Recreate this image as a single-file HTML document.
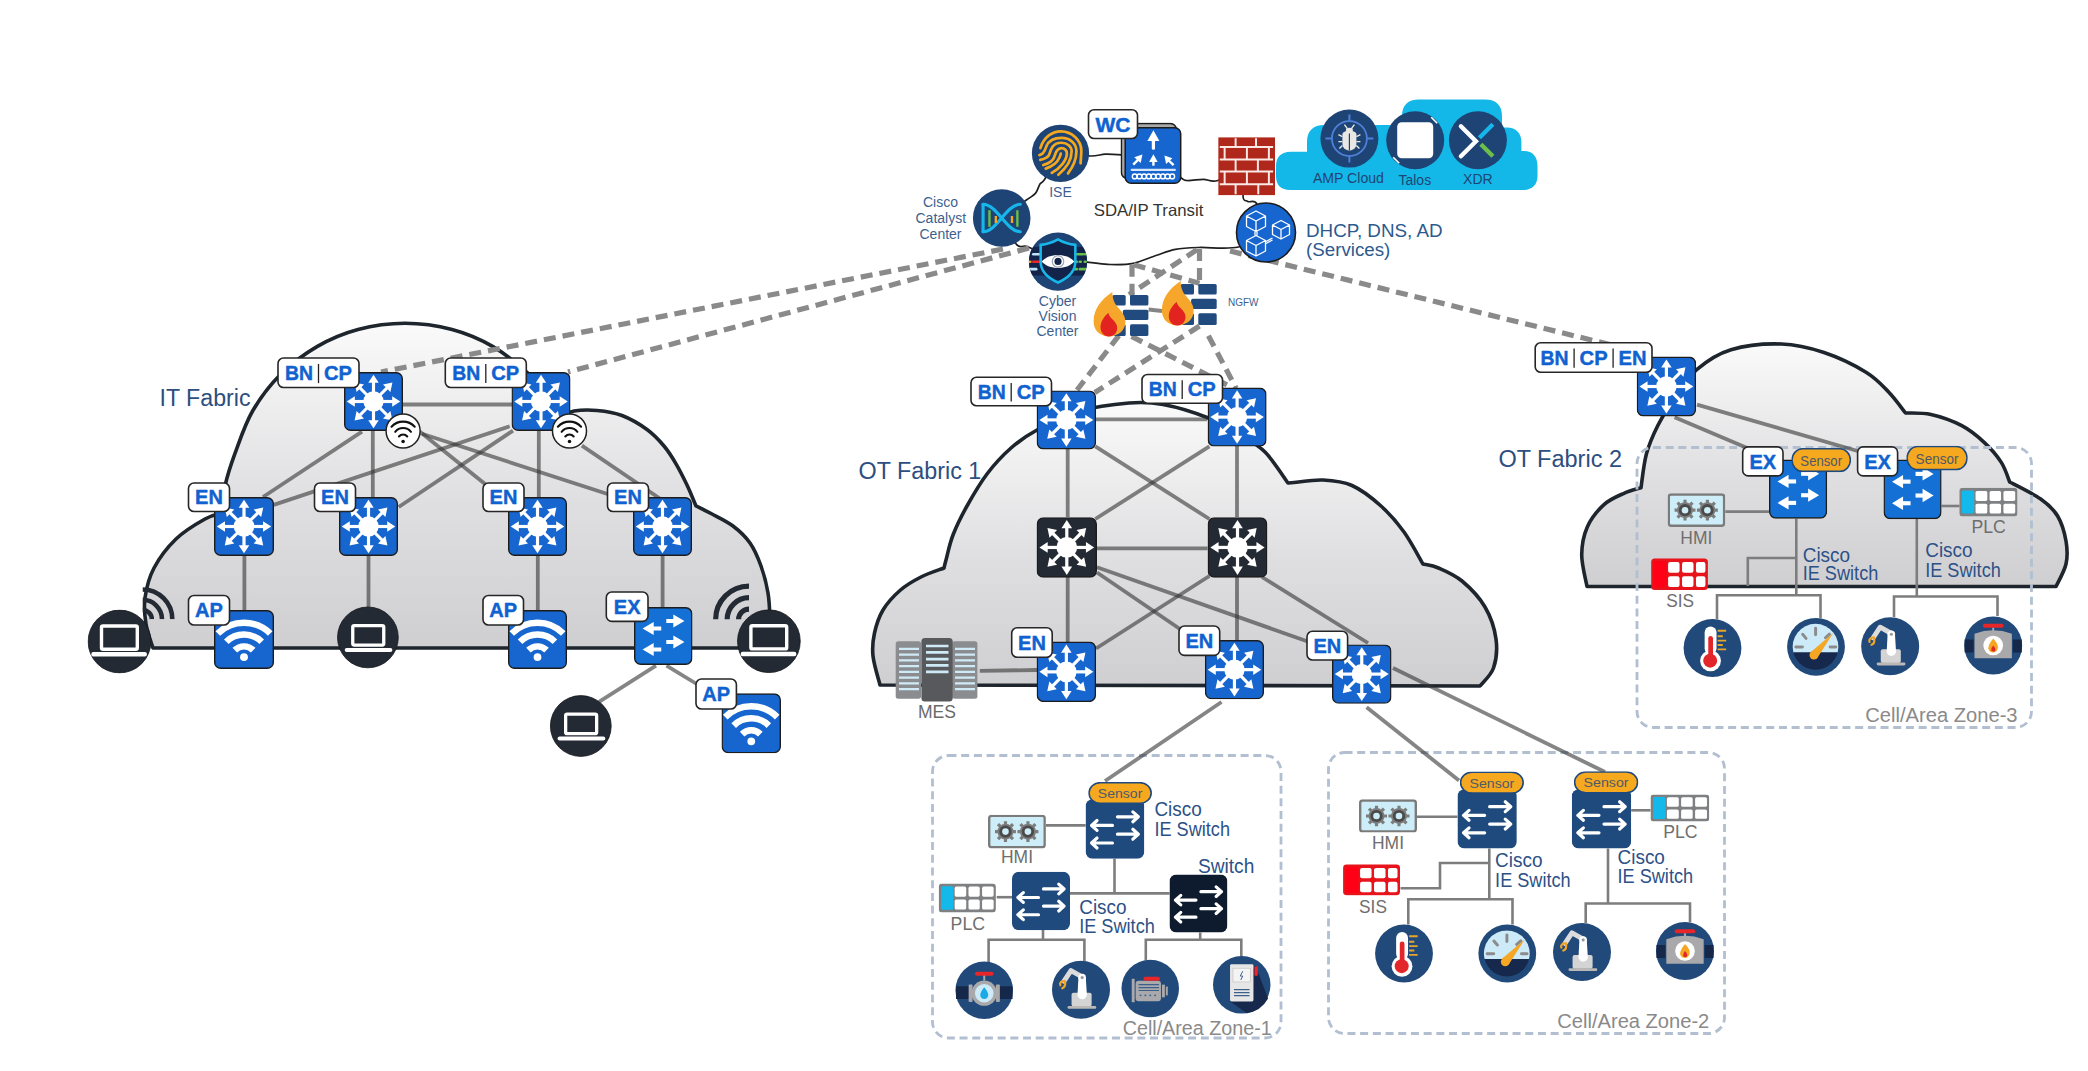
<!DOCTYPE html>
<html><head><meta charset="utf-8"><style>html,body{margin:0;padding:0;background:#fff;width:2088px;height:1071px;overflow:hidden}svg{display:block}</style></head><body>
<svg width="2088" height="1071" viewBox="0 0 2088 1071">
<defs>
<linearGradient id="cg" x1="0" y1="0" x2="0" y2="1">
  <stop offset="0" stop-color="#fafafa"/><stop offset="0.55" stop-color="#dfdfe1"/><stop offset="1" stop-color="#cfcfd2"/>
</linearGradient>
<symbol preserveAspectRatio="none" id="router" viewBox="0 0 60 60">
  <rect x="0.7" y="0.7" width="58.6" height="58.6" rx="6" fill="#1766d0" stroke="#1c1c1c" stroke-width="1.4"/>
  <circle cx="30" cy="30" r="10.3" fill="#fff"/>
  <g transform="rotate(0 30 30)"><rect x="28.4" y="8" width="3.2" height="13" fill="#fff"/><path d="M30 2.8 L35.3 11 L24.7 11 Z" fill="#fff"/></g><g transform="rotate(45 30 30)"><rect x="28.4" y="8" width="3.2" height="13" fill="#fff"/><path d="M30 2.8 L35.3 11 L24.7 11 Z" fill="#fff"/></g><g transform="rotate(90 30 30)"><rect x="28.4" y="8" width="3.2" height="13" fill="#fff"/><path d="M30 2.8 L35.3 11 L24.7 11 Z" fill="#fff"/></g><g transform="rotate(135 30 30)"><rect x="28.4" y="8" width="3.2" height="13" fill="#fff"/><path d="M30 2.8 L35.3 11 L24.7 11 Z" fill="#fff"/></g><g transform="rotate(180 30 30)"><rect x="28.4" y="8" width="3.2" height="13" fill="#fff"/><path d="M30 2.8 L35.3 11 L24.7 11 Z" fill="#fff"/></g><g transform="rotate(225 30 30)"><rect x="28.4" y="8" width="3.2" height="13" fill="#fff"/><path d="M30 2.8 L35.3 11 L24.7 11 Z" fill="#fff"/></g><g transform="rotate(270 30 30)"><rect x="28.4" y="8" width="3.2" height="13" fill="#fff"/><path d="M30 2.8 L35.3 11 L24.7 11 Z" fill="#fff"/></g><g transform="rotate(315 30 30)"><rect x="28.4" y="8" width="3.2" height="13" fill="#fff"/><path d="M30 2.8 L35.3 11 L24.7 11 Z" fill="#fff"/></g>
</symbol>
<symbol preserveAspectRatio="none" id="routerd" viewBox="0 0 60 60">
  <rect x="0.7" y="0.7" width="58.6" height="58.6" rx="6" fill="#232a33" stroke="#1c1c1c" stroke-width="1.4"/>
  <circle cx="30" cy="30" r="10.3" fill="#fff"/>
  <g transform="rotate(0 30 30)"><rect x="28.4" y="8" width="3.2" height="13" fill="#fff"/><path d="M30 2.8 L35.3 11 L24.7 11 Z" fill="#fff"/></g><g transform="rotate(45 30 30)"><rect x="28.4" y="8" width="3.2" height="13" fill="#fff"/><path d="M30 2.8 L35.3 11 L24.7 11 Z" fill="#fff"/></g><g transform="rotate(90 30 30)"><rect x="28.4" y="8" width="3.2" height="13" fill="#fff"/><path d="M30 2.8 L35.3 11 L24.7 11 Z" fill="#fff"/></g><g transform="rotate(135 30 30)"><rect x="28.4" y="8" width="3.2" height="13" fill="#fff"/><path d="M30 2.8 L35.3 11 L24.7 11 Z" fill="#fff"/></g><g transform="rotate(180 30 30)"><rect x="28.4" y="8" width="3.2" height="13" fill="#fff"/><path d="M30 2.8 L35.3 11 L24.7 11 Z" fill="#fff"/></g><g transform="rotate(225 30 30)"><rect x="28.4" y="8" width="3.2" height="13" fill="#fff"/><path d="M30 2.8 L35.3 11 L24.7 11 Z" fill="#fff"/></g><g transform="rotate(270 30 30)"><rect x="28.4" y="8" width="3.2" height="13" fill="#fff"/><path d="M30 2.8 L35.3 11 L24.7 11 Z" fill="#fff"/></g><g transform="rotate(315 30 30)"><rect x="28.4" y="8" width="3.2" height="13" fill="#fff"/><path d="M30 2.8 L35.3 11 L24.7 11 Z" fill="#fff"/></g>
</symbol>
<symbol preserveAspectRatio="none" id="switch" viewBox="0 0 58 58">
  <rect x="0.7" y="0.7" width="56.6" height="56.6" rx="6" fill="#1570d6" stroke="#1c1c1c" stroke-width="1.4"/>
  <g fill="#fff">
   <rect x="32" y="12" width="9" height="4"/><path d="M39 7.5 L50 14 L39 20.5 Z"/>
   <rect x="18" y="19.5" width="9" height="4"/><path d="M19.5 15 L8.5 21.5 L19.5 28 Z"/>
   <rect x="32" y="33" width="9" height="4"/><path d="M39 28.5 L50 35 L39 41.5 Z"/>
   <rect x="18" y="40.5" width="9" height="4"/><path d="M19.5 36 L8.5 42.5 L19.5 49 Z"/>
  </g>
</symbol>
<symbol preserveAspectRatio="none" id="ieswitch" viewBox="0 0 59 59">
  <rect x="0" y="0" width="59" height="59" rx="7" fill="#1f4a7d"/>
  <g stroke="#fff" stroke-width="3.2" fill="none" stroke-linecap="round" stroke-linejoin="round">
   <path d="M32 17.4 H53 M47.5 12.5 L53 17.4 L47.5 22.3"/>
   <path d="M27 26 H6 M11.5 21.1 L6 26 L11.5 30.9"/>
   <path d="M32 34.7 H53 M47.5 29.8 L53 34.7 L47.5 39.6"/>
   <path d="M27 43.4 H6 M11.5 38.5 L6 43.4 L11.5 48.3"/>
  </g>
</symbol>
<symbol preserveAspectRatio="none" id="ieswitchd" viewBox="0 0 59 59">
  <rect x="0" y="0" width="59" height="59" rx="7" fill="#0e1a2e"/>
  <g stroke="#fff" stroke-width="3.2" fill="none" stroke-linecap="round" stroke-linejoin="round">
   <path d="M32 17.4 H53 M47.5 12.5 L53 17.4 L47.5 22.3"/>
   <path d="M27 26 H6 M11.5 21.1 L6 26 L11.5 30.9"/>
   <path d="M32 34.7 H53 M47.5 29.8 L53 34.7 L47.5 39.6"/>
   <path d="M27 43.4 H6 M11.5 38.5 L6 43.4 L11.5 48.3"/>
  </g>
</symbol>
<symbol preserveAspectRatio="none" id="ap" viewBox="0 0 60 60">
  <rect x="0.7" y="0.7" width="58.6" height="58.6" rx="6" fill="#1766d0" stroke="#1c1c1c" stroke-width="1.4"/>
  <g fill="none" stroke="#fff" stroke-width="6.5">
    <path d="M3.8 23.8 A37 37 0 0 1 56.2 23.8"/>
    <path d="M12.3 32.3 A25 25 0 0 1 47.7 32.3"/>
    <path d="M20.8 40.8 A13 13 0 0 1 39.2 40.8"/>
  </g>
  <circle cx="30" cy="48" r="3.9" fill="#fff"/>
</symbol>
<symbol preserveAspectRatio="none" id="laptopL" viewBox="-32 -32 64 64">
  <circle r="31.4" fill="#232a33" stroke="#15191e" stroke-width="0.8"/>
  <rect x="-18" y="-15.5" width="35.8" height="23.2" rx="1.5" fill="none" stroke="#fff" stroke-width="3.4"/>
  <rect x="-28.2" y="10.5" width="55.6" height="4.5" rx="2" fill="#fff"/>
</symbol>
<symbol preserveAspectRatio="none" id="laptopS" viewBox="-32 -32 64 64">
  <circle r="30.4" fill="#232a33" stroke="#15191e" stroke-width="0.8"/>
  <rect x="-15.15" y="-11.85" width="31" height="19.5" rx="1.5" fill="none" stroke="#fff" stroke-width="3.3"/>
  <rect x="-23.2" y="10.5" width="47.7" height="4.1" rx="2" fill="#fff"/>
</symbol>
<symbol preserveAspectRatio="none" id="wifibadge" viewBox="-20 -20 40 40">
  <circle r="18.3" fill="#fff" stroke="#222" stroke-width="1.6"/>
  <g fill="none" stroke="#111" stroke-width="2.2" stroke-linecap="round">
   <path d="M-12.5 -4.5 A17 17 0 0 1 12.5 -4.5"/>
   <path d="M-8.5 1 A11 11 0 0 1 8.5 1"/>
   <path d="M-4.5 6 A6 6 0 0 1 4.5 6"/>
  </g>
  <circle cx="0" cy="11.5" r="1.9" fill="#111"/>
</symbol>
<symbol preserveAspectRatio="none" id="waves" viewBox="0 -33 33 33">
  <g fill="none" stroke="#232a33" stroke-width="4.6">
   <path d="M0 -29.8 A29.8 29.8 0 0 1 29.8 0"/>
   <path d="M0 -19.5 A19.5 19.5 0 0 1 19.5 0"/>
   <path d="M0 -9.3 A9.3 9.3 0 0 1 9.3 0"/>
  </g>
</symbol>
<symbol preserveAspectRatio="none" id="sensor" viewBox="0 0 64 24">
  <rect x="0.8" y="0.8" width="62.4" height="22.4" rx="11.2" fill="#f6a81f" stroke="#1f4a7d" stroke-width="1.6"/>
  <text x="32" y="17.4" font-family="Liberation Sans, sans-serif" font-size="14.2" fill="#4f5a66" text-anchor="middle" textLength="44.6" lengthAdjust="spacingAndGlyphs">Sensor</text>
</symbol>
<symbol preserveAspectRatio="none" id="hmi" viewBox="0 0 58 34">
  <rect x="1.2" y="1.2" width="55.6" height="31.6" rx="2.5" fill="#cdeef8" stroke="#7b7b7b" stroke-width="2.4"/>
  <g fill="#7d7d7d">
   <circle cx="17.5" cy="17" r="8"/><circle cx="40" cy="17" r="8"/>
  </g>
  <g stroke="#7d7d7d" stroke-width="3.2">
   <path d="M17.5 6.5 V27.5 M7 17 H28 M10 9.5 L25 24.5 M25 9.5 L10 24.5"/>
   <path d="M40 6.5 V27.5 M29.5 17 H50.5 M32.5 9.5 L47.5 24.5 M47.5 9.5 L32.5 24.5"/>
  </g>
  <circle cx="17.5" cy="17" r="6.2" fill="#4a4a4a"/><circle cx="40" cy="17" r="6.2" fill="#4a4a4a"/>
  <circle cx="17.5" cy="17" r="3.3" fill="#cdeef8"/><circle cx="40" cy="17" r="3.3" fill="#cdeef8"/>
</symbol>
<symbol preserveAspectRatio="none" id="plc" viewBox="0 0 58 28.6">
  <rect x="0" y="0" width="58" height="28.6" rx="3.5" fill="#7e8082"/>
  <rect x="2.5" y="2.8" width="12.3" height="23" rx="1.5" fill="#12b9ea"/>
  <g fill="#fff">
   <rect x="16.2" y="3.1" width="11.7" height="10" rx="1.6"/><rect x="30.2" y="3.1" width="11.4" height="10" rx="1.6"/><rect x="44" y="3.1" width="11.7" height="10" rx="1.6"/>
   <rect x="16.2" y="15.9" width="11.7" height="9.8" rx="1.6"/><rect x="30.2" y="15.9" width="11.4" height="9.8" rx="1.6"/><rect x="44" y="15.9" width="11.7" height="9.8" rx="1.6"/>
  </g>
</symbol>
<symbol preserveAspectRatio="none" id="sis" viewBox="0 0 58 32">
  <rect x="0.5" y="0.5" width="57" height="31" rx="3.5" fill="#e8141c"/>
  <rect x="3" y="3" width="13" height="26" fill="#ff0016"/>
  <g fill="#fff">
   <rect x="17.5" y="4" width="11.5" height="10.5" rx="2"/><rect x="31.5" y="4" width="11.5" height="10.5" rx="2"/><rect x="45.5" y="4" width="9.5" height="10.5" rx="2"/>
   <rect x="17.5" y="18" width="11.5" height="10.5" rx="2"/><rect x="31.5" y="18" width="11.5" height="10.5" rx="2"/><rect x="45.5" y="18" width="9.5" height="10.5" rx="2"/>
  </g>
</symbol>
<symbol preserveAspectRatio="none" id="thermo" viewBox="-30 -30 60 60">
  <circle r="29.4" fill="#214a7a"/>
  <rect x="-8" y="-21.8" width="12.1" height="28" rx="6" fill="#fff"/>
  <circle cx="-2" cy="13" r="10.6" fill="#fff"/>
  <rect x="-4.3" y="-12.3" width="4.8" height="22" rx="2.4" fill="#e3262a"/>
  <circle cx="-2.35" cy="12.9" r="7.1" fill="#e3262a"/>
  <g stroke="#e9a52b" stroke-width="1.9"><path d="M5.2 -17.6 H13.9 M5.2 -12 H10.5 M5.2 -7.5 H13.9 M5.2 -3 H10.5 M5.2 1.4 H13.9"/></g>
</symbol>
<symbol preserveAspectRatio="none" id="gauge" viewBox="-30 -30 60 60">
  <circle r="29.4" fill="#214a7a"/>
  <circle cx="-0.5" r="23.3" fill="#16294c"/>
  <path d="M-23.1 5.6 A23.3 23.3 0 1 1 22.1 5.6 Z" fill="#cdeaf8"/>
  <g stroke="#8b8b8b" stroke-width="3" stroke-linecap="round"><path d="M-0.4 -18.8 V-12.3 M-13.6 -12.7 L-10.1 -8.6 M-20.5 0.3 H-13.8 M14.4 0.3 H20.1 M13.7 -12.9 L9.6 -9.2"/></g>
  <path d="M17.5 -14 L1.28 11.36 L-5.48 5.44 Z" fill="#f5a623"/>
  <circle cx="-2.1" cy="8.4" r="4.5" fill="#f5a623"/>
</symbol>
<symbol preserveAspectRatio="none" id="robot" viewBox="-30 -30 60 60">
  <circle r="29.5" fill="#214a7a"/>
  <path d="M1.2 -13 L-10.2 -19.4 L-17.3 -8.7" stroke="#dcdcdc" stroke-width="5" stroke-linejoin="round" stroke-linecap="round" fill="none"/>
  <path d="M-2.6 -13 L4.8 -13 L6 6 L-3.6 6 Z" fill="#fff"/>
  <rect x="-9.6" y="3" width="20.4" height="14" rx="2" fill="#d4d4d4"/>
  <circle cx="1.2" cy="5" r="4.8" fill="#fff"/>
  <circle cx="1.2" cy="-12.3" r="3.8" fill="#fff"/><circle cx="1.2" cy="-12.3" r="1.6" fill="#9a9a9a"/>
  <rect x="-13.7" y="16.5" width="29.2" height="2.9" rx="1.3" fill="#bbb8b6"/>
  <path d="M-16.5 -9 C -20 -9 -22 -7 -21 -4.5 M-16.5 -9 C -15.5 -5 -16.5 -2.5 -19 -1.5" stroke="#f0a428" stroke-width="2.3" fill="none" stroke-linecap="round"/>
</symbol>
<symbol preserveAspectRatio="none" id="tank" viewBox="-30 -30 60 60">
  <circle r="29.5" fill="#214a7a"/>
  <path d="M-29 -6 H-20 V7 H-29 Z M29 -6 H20 V7 H29 Z" fill="#15284a"/>
  <path d="M-19 -12 Q0 -19 19 -12 V13 H-19 Z" fill="#a9a9ac"/>
  <rect x="-10.5" y="-22" width="21" height="4" rx="2" fill="#e8262a"/>
  <rect x="-1" y="-18" width="2" height="5" fill="#a9a9ac"/>
  <circle cx="0" cy="0" r="10" fill="#fff"/>
  <path d="M0 -7 Q6 -1 4.5 3.5 Q3 7 0 7 Q-4 7 -5 3 Q-5 -1 0 -7 Z" fill="#f5a623"/>
  <path d="M0 0 Q3 3 2 5.5 Q0 7 -2 5 Q-2 2 0 0 Z" fill="#e3262a"/>
</symbol>
<symbol preserveAspectRatio="none" id="valve" viewBox="-30 -30 60 60">
  <circle r="29.5" fill="#214a7a"/>
  <path d="M-29 -4 H-14 V9 H-29 Z M29 -4 H14 V9 H29 Z" fill="#15284a"/>
  <rect x="-16" y="-6" width="4" height="18" rx="1" fill="#a9a9ac"/><rect x="12" y="-6" width="4" height="18" rx="1" fill="#a9a9ac"/>
  <circle cx="0" cy="3" r="13" fill="#a9a9ac"/>
  <circle cx="0" cy="3" r="9.5" fill="#cdeaf8"/>
  <path d="M0 -3 Q5 3 4 6 Q3 9 0 9 Q-3 9 -4 6 Q-5 3 0 -3 Z" fill="#18a9e6"/>
  <rect x="-9.5" y="-19" width="19" height="4" rx="2" fill="#e8262a"/>
  <rect x="-1" y="-15" width="2" height="5" fill="#a9a9ac"/>
</symbol>
<symbol preserveAspectRatio="none" id="motor" viewBox="-30 -30 60 60">
  <circle r="29.5" fill="#214a7a"/>
  <rect x="-19" y="-10" width="3" height="24" fill="#a9a9ac"/>
  <rect x="-15" y="-8" width="26" height="21" rx="3" fill="#a9a9ac"/>
  <rect x="12" y="-4" width="3" height="13" fill="#a9a9ac"/><rect x="16" y="-2" width="2" height="9" fill="#a9a9ac"/>
  <rect x="-7" y="-12" width="17" height="4" rx="2" fill="#e8262a"/>
  <g stroke="#3c5f8c" stroke-width="1.2"><path d="M-12 -4 H9 M-12 -1 H9 M-12 2 H9"/></g>
  <g fill="#3c5f8c"><circle cx="-10" cy="7" r="1"/><circle cx="-5" cy="7" r="1"/><circle cx="0" cy="7" r="1"/><circle cx="5" cy="7" r="1"/></g>
</symbol>
<symbol preserveAspectRatio="none" id="meter" viewBox="-30 -30 60 60">
  <circle r="29.5" fill="#214a7a"/>
  <path d="M14 -20 L27 14 A29.5 29.5 0 0 1 5 29 L-12 17 Z" fill="#16294c"/>
  <rect x="-12" y="-21" width="24" height="38" rx="1.5" fill="#e6e6e6"/>
  <rect x="-9" y="-17" width="18" height="14" fill="#f4f4f4" stroke="#c9c9c9" stroke-width="0.8"/>
  <path d="M1 -14 L-1.5 -9 H1 L-1 -5" stroke="#3c5f8c" stroke-width="1" fill="none"/>
  <g stroke="#3c5f8c" stroke-width="1.3"><path d="M-8 5 H8 M-8 8 H8 M-8 11 H8"/></g>
  <rect x="13" y="-19" width="3.5" height="10" rx="1.5" fill="#e8262a"/>
</symbol>

<symbol preserveAspectRatio="none" id="ise" viewBox="-30 -30 60 60">
  <circle r="29.3" fill="#1d4474"/>
  <g fill="none" stroke="#f4a81f" stroke-width="2.8" stroke-linecap="round">
   <path d="M-20.6 -5.2 C -17 -17 -8 -22.5 0.3 -22.5 C 12 -22.5 21.3 -13 21.3 -2.8 C 21.3 3 20.6 7 20.6 10.2"/>
   <path d="M-21.6 1.8 C -17 1 -15.5 -4 -14.5 -7.1 C -12 -13 -6 -15.7 0.9 -15.7 C 10 -15.7 16.3 -10 16.3 -2 C 16.3 8 12 15 7.7 20.6"/>
   <path d="M-20.7 6.8 C -15 5.5 -12 3 -11.4 0.9 C -10 -4 -8 -10.8 0.9 -10.8 C 7 -10.8 11.4 -7 11.4 -2 C 11.4 8 5 16 -2.2 21.9"/>
   <path d="M-17.6 12 C -11 10 -7.5 7 -6.5 4 C -5 0 -4 -5.2 0.9 -5.2 C 4.5 -5.2 6.5 -3 6.5 0 C 6.5 7 0 15 -8.9 20"/>
   <path d="M-15.1 15.7 C -8 13 -3.4 9.6 -1.5 5 C -0.5 3 0.3 1.5 0.3 0.3"/>
  </g>
</symbol>
<symbol preserveAspectRatio="none" id="catc" viewBox="-30 -30 60 60">
  <circle r="29.4" fill="#1d4474"/>
  <g fill="none" stroke="#17b6ea" stroke-width="3.2" stroke-linecap="round">
   <path d="M-19 -14 V14"/>
   <path d="M-19 -14 C -5 -14 5 14 19 14"/>
   <path d="M-19 14 C -5 14 5 -14 19 -14"/>
  </g>
  <g stroke="#6cc04a" stroke-width="2.4"><path d="M-12.5 -8 V9 M16 -8 V9"/></g>
  <g stroke="#f4a524" stroke-width="2.4"><path d="M-6 -2 V5 M10.5 -2 V5"/></g>
</symbol>
<symbol preserveAspectRatio="none" id="cvc" viewBox="-30 -30 60 60">
  <clipPath id="cvcclip"><circle r="29.4"/></clipPath>
  <circle r="29.4" fill="#1d4474"/>
  <g clip-path="url(#cvcclip)">
   <rect x="-30" y="-15" width="60" height="29" fill="#12244a"/>
   <g stroke-width="2.6" stroke-linecap="round">
    <path d="M-25 -7.5 H-19" stroke="#bfe6f7"/><path d="M-25 0 H-19" stroke="#e8262a"/><path d="M-28 7.5 H-22" stroke="#bfe6f7"/>
    <path d="M-29 0 H-28" stroke="#f4a524"/>
    <path d="M19 -7.5 H25 M27 -7.5 H28" stroke="#6cc04a"/><path d="M18 0 H19 M22 0 H23 M27 0 H28" stroke="#6cc04a"/><path d="M17 7.5 H19 M22 7.5 H28" stroke="#6cc04a"/>
   </g>
  </g>
  <path d="M0 -22.5 C -6 -19 -11 -17.5 -17.5 -17 V0 C -17.5 10 -9 17 0 21 C 9 17 17.5 10 17.5 0 V-17 C 11 -17.5 6 -19 0 -22.5 Z" fill="#12244a" stroke="#17b6ea" stroke-width="2.6"/>
  <path d="M-16.5 -0.3 C -9 -9 9 -9 16.5 -0.3 C 9 8.5 -9 8.5 -16.5 -0.3 Z" fill="#fff"/>
  <circle cx="0" cy="-0.3" r="5.8" fill="none" stroke="#9aa6b8" stroke-width="1.2"/>
  <circle cx="0" cy="-0.3" r="3.6" fill="#12244a"/>
</symbol>
<symbol preserveAspectRatio="none" id="wc" viewBox="0 0 62 62">
  <rect x="1" y="1" width="55" height="55" rx="6" fill="#a9a9a9" stroke="#1c1c1c" stroke-width="1.5"/>
  <rect x="4.8" y="5.3" width="55.5" height="55.5" rx="6" fill="#1766d0" stroke="#1c1c1c" stroke-width="1.5"/>
  <g fill="#fff" transform="translate(4.8 5.3)">
    <path d="M28.2 2.5 L34.2 13.4 L22.2 13.4 Z"/><rect x="26.6" y="12" width="3.2" height="10" rx="1.5"/>
    <path d="M28.2 26.5 L32.5 34.2 L23.9 34.2 Z"/><rect x="27" y="33" width="2.4" height="5" />
    <path d="M17.2 26.8 L15.5 35.2 L9 29.5 Z"/><path d="M8 37 L13.5 31.5" stroke="#fff" stroke-width="2.4"/>
    <path d="M39.2 27.8 L47.2 30.5 L40.9 36.3 Z"/><path d="M48.4 37.5 L43 32.3" stroke="#fff" stroke-width="2.4"/>
    <rect x="5.4" y="41" width="45.3" height="2.2" rx="1" fill="#d7e6f7"/>
  </g>
  <g fill="none" stroke="#fff" stroke-width="1.4" transform="translate(4.8 5.3)">
    <circle cx="9.5" cy="48.7" r="2.4"/><circle cx="14.2" cy="48.7" r="2.4"/><circle cx="18.9" cy="48.7" r="2.4"/><circle cx="23.6" cy="48.7" r="2.4"/><circle cx="28.3" cy="48.7" r="2.4"/><circle cx="33" cy="48.7" r="2.4"/><circle cx="37.7" cy="48.7" r="2.4"/><circle cx="42.4" cy="48.7" r="2.4"/><circle cx="47" cy="48.7" r="2.4"/>
  </g>
</symbol>
<symbol preserveAspectRatio="none" id="fw" viewBox="0 0 58 58">
  <rect x="0" y="0" width="57.4" height="58.1" fill="#b0281c"/>
  <g stroke="#fbe9e6" stroke-width="2" fill="none">
   <path d="M1.6 9.9 H55.5 M1.6 22.3 H55.5 M1.6 34.3 H55.5 M1.6 47 H55.5"/>
   <path d="M17.6 1 V9.9 M38.2 1 V9.9"/>
   <path d="M6.5 9.9 V22.3 M29 9.9 V22.3 M51.2 9.9 V22.3"/>
   <path d="M17.6 22.3 V34.3 M40.1 22.3 V34.3"/>
   <path d="M6.5 34.3 V47 M29 34.3 V47 M51.2 34.3 V47"/>
   <path d="M17.6 47 V57 M40.5 47 V57"/>
  </g>
</symbol>
<symbol preserveAspectRatio="none" id="dhcp" viewBox="-31 -31 62 62">
  <circle r="29.5" fill="#1766d0" stroke="#1c1c1c" stroke-width="1.6"/>
  <g fill="none" stroke="#fff" stroke-width="1.3" stroke-linejoin="round">
   <g transform="translate(-10 -11.5)"><path d="M-9.5 -5 L0 -10 L9.5 -5 L9.5 5.5 L0 10.5 L-9.5 5.5 Z M-9.5 -5 L0 0 L9.5 -5 M0 0 V10.5"/></g>
   <g transform="translate(15 -3)"><path d="M-8.5 -4.5 L0 -9 L8.5 -4.5 L8.5 5 L0 9.5 L-8.5 5 Z M-8.5 -4.5 L0 0 L8.5 -4.5 M0 0 V9.5"/></g>
   <g transform="translate(-10 13)"><path d="M-9.5 -5 L0 -10 L9.5 -5 L9.5 5.5 L0 10.5 L-9.5 5.5 Z M-9.5 -5 L0 0 L9.5 -5 M0 0 V10.5"/></g>
   <path d="M-11 -1 V3 M-9 -1 V3 M0 9 L6.5 5.5 M0 11 L6.5 7.5"/>
  </g>
</symbol>
<symbol preserveAspectRatio="none" id="ngfw" viewBox="0 0 56 46">
  <g fill="#214a7e">
   <rect x="19.3" y="3.5" width="13.4" height="10.5" rx="1.6"/><rect x="37" y="3.5" width="18.4" height="10.5" rx="1.6"/>
   <rect x="29.8" y="18.3" width="25.6" height="10.2" rx="1.6"/>
   <rect x="20.6" y="32.8" width="12.1" height="11.8" rx="1.6"/><rect x="37" y="32.8" width="18.4" height="11.8" rx="1.6"/>
  </g>
  <path d="M19.3 0.6 C 8 8 0.6 18 0.6 30 C 0.6 39 7 44.9 16 44.9 C 25 44.9 32.4 39 32.4 30.5 C 32.4 22 26 18 22 12 C 20 8 19.3 4 19.3 0.6 Z" fill="#f6a72b"/>
  <path d="M15.5 21.3 C 10 26 7.5 31 7.5 36 C 7.5 41 11 44.9 16 44.9 C 21 44.9 24.2 41 24.2 36.5 C 24.2 31 19 28 17 25 C 16 23.5 15.5 22.5 15.5 21.3 Z" fill="#e3231f"/>
</symbol>
<symbol preserveAspectRatio="none" id="mes" viewBox="0 0 84 66">
  <rect x="0.7" y="4.3" width="25.3" height="57.5" rx="2.5" fill="#8a8c8f"/>
  <rect x="57.2" y="4.3" width="25.2" height="57.5" rx="2.5" fill="#8a8c8f"/>
  <g stroke="#cfeaf6" stroke-width="2.2">
   <path d="M4 11.8 H24 M4 17.6 H24 M4 23.3 H24 M4 29.1 H24 M4 34.9 H24 M4 40.6 H24 M4 46.4 H24 M4 52.1 H24"/>
   <path d="M60 11.8 H80 M60 17.6 H80 M60 23.3 H80 M60 29.1 H80 M60 34.9 H80 M60 40.6 H80 M60 46.4 H80 M60 52.1 H80"/>
  </g>
  <rect x="26.4" y="1" width="31.3" height="63.6" rx="3.5" fill="#58595c"/>
  <g stroke="#cfeaf6" stroke-width="2.6"><path d="M31 9 H53.5 M31 15.4 H53.5 M31 22.1 H53.5 M31 28.4 H53.5 M31 34.9 H53.5"/></g>
</symbol>
<symbol preserveAspectRatio="none" id="amp" viewBox="-30 -30 60 60">
  <circle r="29" fill="#1d4474"/>
  <circle r="17.5" fill="none" stroke="#4f7fd8" stroke-width="1.8"/>
  <g stroke="#4f7fd8" stroke-width="2"><path d="M0 -24 V-17 M0 17 V24 M-24 0 H-17 M17 0 H24"/></g>
  <path d="M-7 -4 C -7 -9 7 -9 7 -4 V5 C 7 10 3 12 0 12 C -3 12 -7 10 -7 5 Z" fill="#e9e7e4"/>
  <ellipse cx="0" cy="-8.5" rx="3.5" ry="2.3" fill="#e9e7e4"/>
  <g stroke="#e9e7e4" stroke-width="1.4" fill="none"><path d="M-2 -10 L-5 -14 M2 -10 L5 -14 M-7 -2 L-11 -4 M-7 3 L-11 3 M-7 7 L-10 10 M7 -2 L11 -4 M7 3 L11 3 M7 7 L10 10"/></g>
  <path d="M0 -5 V12" stroke="#1d4474" stroke-width="1.2"/>
</symbol>
<symbol preserveAspectRatio="none" id="talos" viewBox="-30 -30 60 60">
  <circle r="29" fill="#1d4474"/>
  <rect x="-18" y="-18" width="36" height="36" rx="4.5" fill="#fff"/>
  <path d="M16 -23 L22 -17 M-22 17 L-16 23" stroke="#fff" stroke-width="1.6"/>
</symbol>
<symbol preserveAspectRatio="none" id="xdr" viewBox="-30 -30 60 60">
  <circle r="29" fill="#1d4474"/>
  <path d="M-17 -14 L-2 1 L-17 16" fill="none" stroke="#fff" stroke-width="4.4" stroke-linecap="round"/>
  <path d="M1.5 -2.5 L15 -16" stroke="#17b6ea" stroke-width="4.4"/>
  <path d="M3 4 L15 16" stroke="#6cc04a" stroke-width="4.4"/>
</symbol>
</defs>
<rect width="2088" height="1071" fill="#fff"/>
<path d="M153.0 648.0 L153.0 648.0 C151.8 644.0 147.3 632.3 146.0 624.0 C144.7 615.7 143.7 607.3 145.0 598.0 C146.3 588.7 148.8 577.8 154.0 568.0 C159.2 558.2 167.5 547.2 176.0 539.0 C184.5 530.8 197.3 523.3 205.0 519.0 C212.7 514.7 219.2 514.0 222.0 513.0 L222.0 513.0 C222.5 508.5 222.8 495.9 225.0 486.0 C227.2 476.1 230.4 465.9 235.0 453.4 C239.6 440.9 245.0 424.1 252.6 411.0 C260.2 397.9 269.8 385.2 280.5 374.5 C291.2 363.8 304.1 354.1 317.0 346.6 C329.9 339.1 343.3 333.4 358.0 329.5 C372.7 325.6 389.3 323.3 405.0 323.3 C420.7 323.3 437.3 325.6 452.0 329.5 C466.7 333.4 480.1 339.1 493.0 346.6 C505.9 354.1 520.0 365.9 529.5 374.5 C539.0 383.1 544.6 391.1 550.0 398.0 C555.4 404.9 560.0 413.0 562.0 416.0 L562.0 416.0 C564.0 415.2 568.2 411.9 574.0 411.0 C579.8 410.1 589.0 409.8 597.0 410.5 C605.0 411.2 613.7 412.3 622.0 415.5 C630.3 418.7 640.0 424.4 647.0 429.5 C654.0 434.6 659.1 440.2 664.0 446.0 C668.9 451.8 672.5 457.8 676.3 464.3 C680.1 470.8 683.7 478.1 687.0 485.0 C690.3 491.9 694.5 502.5 696.0 506.0 L696.0 506.0 C698.7 507.3 705.8 510.7 712.0 514.0 C718.2 517.3 726.7 521.2 733.0 526.0 C739.3 530.8 745.3 536.3 750.0 543.0 C754.7 549.7 758.0 557.7 761.0 566.0 C764.0 574.3 766.5 584.0 768.0 593.0 C769.5 602.0 769.7 610.8 770.0 620.0 C770.3 629.2 770.0 643.3 770.0 648.0 Z" fill="url(#cg)" stroke="#1e252d" stroke-width="3.6" stroke-linejoin="round"/>
<path d="M880.0 685.0 L880.0 685.0 C878.8 680.2 873.9 664.7 873.0 656.0 C872.1 647.3 872.8 640.7 874.5 633.0 C876.2 625.3 878.7 617.2 883.0 610.0 C887.3 602.8 894.2 595.5 900.5 590.0 C906.8 584.5 913.8 580.7 921.0 577.0 C928.2 573.3 940.2 569.5 944.0 568.0 L944.0 568.0 C944.3 566.7 944.5 565.5 946.0 560.0 C947.5 554.5 949.5 544.0 953.0 535.0 C956.5 526.0 961.3 516.2 967.0 506.0 C972.7 495.8 979.7 483.7 987.0 474.0 C994.3 464.3 1002.7 455.3 1011.0 448.0 C1019.3 440.7 1025.5 436.2 1037.0 430.0 C1048.5 423.8 1064.7 415.5 1080.0 411.0 C1095.3 406.5 1115.2 404.1 1129.0 403.0 C1142.8 401.9 1150.0 402.1 1163.0 404.5 C1176.0 406.9 1194.2 412.4 1207.0 417.5 C1219.8 422.6 1230.3 429.2 1240.0 435.0 C1249.7 440.8 1257.0 444.0 1265.0 452.0 C1273.0 460.0 1284.2 477.8 1288.0 483.0 L1288.0 483.0 C1289.0 482.9 1288.2 483.0 1294.0 482.5 C1299.8 482.0 1313.3 479.5 1323.0 480.0 C1332.7 480.5 1342.3 481.2 1352.0 485.5 C1361.7 489.8 1372.3 498.2 1381.0 506.0 C1389.7 513.8 1397.0 522.3 1404.0 532.0 C1411.0 541.7 1419.8 558.7 1423.0 564.0 L1423.0 564.0 C1425.6 564.7 1432.0 565.2 1438.5 568.0 C1445.0 570.8 1454.2 574.5 1462.0 581.0 C1469.8 587.5 1479.3 597.3 1485.0 607.0 C1490.7 616.7 1494.6 628.8 1496.0 639.0 C1497.4 649.2 1496.2 660.2 1493.5 668.0 C1490.8 675.8 1482.2 683.0 1480.0 686.0 Z" fill="url(#cg)" stroke="#1e252d" stroke-width="3.6" stroke-linejoin="round"/>
<path d="M1587.0 586.5 L1587.0 586.5 C1586.1 581.2 1581.7 564.9 1581.7 555.0 C1581.8 545.1 1583.6 535.4 1587.3 527.0 C1591.0 518.6 1597.9 510.2 1604.0 504.6 C1610.1 499.0 1617.8 496.1 1624.0 493.3 C1630.2 490.5 1638.2 488.6 1641.0 487.7 L1641.0 487.7 C1641.9 482.1 1643.6 464.3 1646.4 454.0 C1649.2 443.7 1653.0 435.1 1657.7 425.7 C1662.4 416.3 1668.0 407.0 1674.6 397.6 C1681.1 388.2 1687.6 377.4 1697.0 369.4 C1706.4 361.4 1716.9 353.9 1731.0 349.7 C1745.1 345.5 1766.1 343.5 1781.6 344.0 C1797.1 344.5 1809.9 347.8 1824.0 352.5 C1838.1 357.2 1855.2 365.6 1866.0 372.2 C1876.8 378.8 1882.0 385.2 1888.6 392.0 C1895.2 398.8 1902.7 409.5 1905.5 413.0 L1905.5 413.0 C1909.8 413.2 1921.6 412.4 1931.0 414.5 C1940.4 416.6 1952.9 421.0 1961.8 425.7 C1970.7 430.4 1977.8 436.5 1984.4 442.6 C1991.0 448.7 1997.1 455.8 2001.3 462.4 C2005.5 469.0 2008.3 478.7 2009.7 482.0 L2009.7 482.0 C2014.9 484.8 2032.7 493.3 2040.7 499.0 C2048.7 504.7 2053.4 509.0 2057.6 516.0 C2061.8 523.0 2064.6 533.0 2066.0 541.0 C2067.4 549.0 2067.7 556.4 2066.0 564.0 C2064.3 571.6 2057.7 582.8 2056.0 586.5 Z" fill="url(#cg)" stroke="#1e252d" stroke-width="3.6" stroke-linejoin="round"/>
<path d="M1001.7 218 C1005.8 215.1 1020.4 204.4 1026.0 200.3 C1031.6 196.2 1033.1 196.1 1035.4 193.4 C1037.7 190.7 1038.5 186.3 1040.0 184.0 C1041.5 181.7 1041.3 184.5 1044.7 179.3 C1048.1 174.1 1052.9 156.9 1060.5 153.0 C1068.1 149.1 1082.7 155.8 1090.2 156.0 C1097.7 156.2 1100.2 154.3 1105.4 154.1 C1110.7 153.9 1113.9 154.7 1121.7 154.8 C1129.5 155.0 1142.3 151.3 1152.0 155.0 C1161.7 158.7 1174.2 172.8 1180.0 177.0 C1185.8 181.2 1183.1 180.1 1187.0 180.5 C1190.9 180.9 1198.2 179.3 1203.4 179.3 C1208.6 179.3 1210.6 182.7 1217.9 180.5 C1225.2 178.3 1242.8 163.5 1247.0 166.0 C1251.2 168.5 1242.9 189.8 1243.0 195.7 C1243.1 201.6 1245.4 200.1 1247.7 201.5 C1250.0 202.9 1254.0 198.8 1257.0 204.0 C1260.0 209.2 1269.1 225.3 1266.0 232.5 C1262.9 239.7 1249.6 244.5 1238.4 247.0 C1227.2 249.5 1209.2 247.1 1198.7 247.5 C1188.2 247.9 1182.4 248.1 1175.4 249.4 C1168.4 250.7 1163.7 252.9 1156.7 255.2 C1149.7 257.5 1141.2 261.8 1133.4 263.4 C1125.6 264.9 1117.8 264.7 1110.0 264.5 C1102.2 264.3 1095.5 262.7 1086.7 262.2 C1078.0 261.7 1067.2 263.9 1057.5 261.4 C1047.8 258.9 1035.2 249.8 1028.4 247.0 C1021.6 244.2 1021.2 249.5 1016.7 244.7 C1012.2 239.9 1004.2 222.4 1001.7 218.0 Z" fill="#fff" stroke="#1f1f1f" stroke-width="1.7"/>
<text x="1093.7" y="215.5" font-family="Liberation Sans, sans-serif" font-size="16.5" font-weight="400" fill="#333" text-anchor="start" textLength="109.7" lengthAdjust="spacingAndGlyphs" >SDA/IP Transit</text>
<rect x="932.5" y="755.5" width="348.5" height="282.5" rx="16" fill="none" stroke="#b1bfd1" stroke-width="2.8" stroke-dasharray="8 4.7"/>
<rect x="1328.5" y="752.5" width="396" height="281" rx="16" fill="none" stroke="#b1bfd1" stroke-width="2.8" stroke-dasharray="8 4.7"/>
<rect x="1637" y="447.5" width="394.5" height="280" rx="16" fill="none" stroke="#b1bfd1" stroke-width="2.8" stroke-dasharray="8 4.7"/>
<path d="M402.0 404.5 L512.0 404.5" fill="none" stroke="#333" stroke-opacity="0.6" stroke-width="3.8"/>
<path d="M372.8 431.0 L372.8 497.0" fill="none" stroke="#333" stroke-opacity="0.6" stroke-width="3.8"/>
<path d="M538.8 431.0 L538.8 497.0" fill="none" stroke="#333" stroke-opacity="0.6" stroke-width="3.8"/>
<path d="M362.0 431.6 L263.0 497.0" fill="none" stroke="#333" stroke-opacity="0.6" stroke-width="3.8"/>
<path d="M419.0 431.0 L505.0 500.0" fill="none" stroke="#333" stroke-opacity="0.6" stroke-width="3.8"/>
<path d="M422.0 433.8 L633.0 502.3" fill="none" stroke="#333" stroke-opacity="0.6" stroke-width="3.8"/>
<path d="M509.7 426.3 L273.7 504.9" fill="none" stroke="#333" stroke-opacity="0.6" stroke-width="3.8"/>
<path d="M513.0 430.6 L398.7 507.0" fill="none" stroke="#333" stroke-opacity="0.6" stroke-width="3.8"/>
<path d="M581.9 445.6 L662.0 500.0" fill="none" stroke="#333" stroke-opacity="0.6" stroke-width="3.8"/>
<path d="M244.4 556.0 L244.4 610.0" fill="none" stroke="#333" stroke-opacity="0.6" stroke-width="3.8"/>
<path d="M368.5 556.0 L368.5 607.0" fill="none" stroke="#333" stroke-opacity="0.6" stroke-width="3.8"/>
<path d="M537.8 556.0 L537.8 610.0" fill="none" stroke="#333" stroke-opacity="0.6" stroke-width="3.8"/>
<path d="M662.6 556.0 L662.6 607.0" fill="none" stroke="#333" stroke-opacity="0.6" stroke-width="3.8"/>
<path d="M656.0 665.7 L599.0 701.8" fill="none" stroke="#333" stroke-opacity="0.6" stroke-width="3.8"/>
<path d="M666.5 665.7 L700.0 686.0" fill="none" stroke="#333" stroke-opacity="0.6" stroke-width="3.8"/>
<path d="M1096.0 419.4 L1207.0 419.4" fill="none" stroke="#333" stroke-opacity="0.6" stroke-width="3.8"/>
<path d="M1067.7 449.0 L1067.7 517.0" fill="none" stroke="#333" stroke-opacity="0.6" stroke-width="3.8"/>
<path d="M1237.0 446.0 L1237.0 517.0" fill="none" stroke="#333" stroke-opacity="0.6" stroke-width="3.8"/>
<path d="M1095.3 446.4 L1209.4 519.0" fill="none" stroke="#333" stroke-opacity="0.6" stroke-width="3.8"/>
<path d="M1209.4 446.4 L1095.3 519.0" fill="none" stroke="#333" stroke-opacity="0.6" stroke-width="3.8"/>
<path d="M1097.0 548.3 L1207.6 548.3" fill="none" stroke="#333" stroke-opacity="0.6" stroke-width="3.8"/>
<path d="M1067.7 577.0 L1067.7 642.0" fill="none" stroke="#333" stroke-opacity="0.6" stroke-width="3.8"/>
<path d="M1237.0 577.0 L1237.0 640.0" fill="none" stroke="#333" stroke-opacity="0.6" stroke-width="3.8"/>
<path d="M1209.4 576.0 L1096.0 648.5" fill="none" stroke="#333" stroke-opacity="0.6" stroke-width="3.8"/>
<path d="M1097.0 572.5 L1206.0 646.8" fill="none" stroke="#333" stroke-opacity="0.6" stroke-width="3.8"/>
<path d="M1097.0 567.3 L1332.0 650.0" fill="none" stroke="#333" stroke-opacity="0.6" stroke-width="3.8"/>
<path d="M1262.0 577.0 L1368.0 643.0" fill="none" stroke="#333" stroke-opacity="0.6" stroke-width="3.8"/>
<path d="M1393.0 668.0 L1605.0 772.0" fill="none" stroke="#333" stroke-opacity="0.6" stroke-width="3.8"/>
<path d="M979.8 670.8 L1037.2 670.0" fill="none" stroke="#333" stroke-opacity="0.6" stroke-width="3.8"/>
<path d="M1221.5 702.0 L1105.0 781.0" fill="none" stroke="#333" stroke-opacity="0.6" stroke-width="3.8"/>
<path d="M1366.6 707.3 L1459.0 780.5" fill="none" stroke="#333" stroke-opacity="0.6" stroke-width="3.8"/>
<path d="M1674.6 417.3 L1747.8 448.3" fill="none" stroke="#333" stroke-opacity="0.6" stroke-width="3.8"/>
<path d="M1697.0 404.6 L1857.6 451.0" fill="none" stroke="#333" stroke-opacity="0.6" stroke-width="3.8"/>
<path d="M1725.3 511.6 L1769.0 511.6" fill="none" stroke="#7d7d7d" stroke-opacity="1" stroke-width="2.6"/>
<path d="M1941.6 506.0 L1959.6 506.0" fill="none" stroke="#7d7d7d" stroke-opacity="1" stroke-width="2.6"/>
<path d="M1796.3 518.7 L1796.3 594.7" fill="none" stroke="#7d7d7d" stroke-opacity="1" stroke-width="2.6"/>
<path d="M1796.3 558.0 L1747.8 558.0 L1747.8 586.0" fill="none" stroke="#7d7d7d" stroke-opacity="1" stroke-width="2.6"/>
<path d="M1717.0 619.0 L1717.0 595.2 L1820.5 595.2 L1820.5 618.0" fill="none" stroke="#7d7d7d" stroke-opacity="1" stroke-width="2.6"/>
<path d="M1916.8 519.0 L1916.8 596.0" fill="none" stroke="#7d7d7d" stroke-opacity="1" stroke-width="2.6"/>
<path d="M1894.0 617.0 L1894.0 596.5 L1997.5 596.5 L1997.5 616.0" fill="none" stroke="#7d7d7d" stroke-opacity="1" stroke-width="2.6"/>
<path d="M1045.9 825.4 L1085.6 825.4" fill="none" stroke="#7d7d7d" stroke-opacity="1" stroke-width="2.6"/>
<path d="M1114.5 858.7 L1114.5 893.4" fill="none" stroke="#7d7d7d" stroke-opacity="1" stroke-width="2.6"/>
<path d="M1070.0 893.4 L1169.5 893.4" fill="none" stroke="#7d7d7d" stroke-opacity="1" stroke-width="2.6"/>
<path d="M996.7 897.2 L1012.0 897.2" fill="none" stroke="#7d7d7d" stroke-opacity="1" stroke-width="2.6"/>
<path d="M1043.0 930.0 L1043.0 939.7" fill="none" stroke="#7d7d7d" stroke-opacity="1" stroke-width="2.6"/>
<path d="M988.6 962.0 L988.6 939.7 L1084.4 939.7 L1084.4 961.0" fill="none" stroke="#7d7d7d" stroke-opacity="1" stroke-width="2.6"/>
<path d="M1200.2 932.5 L1200.2 939.7" fill="none" stroke="#7d7d7d" stroke-opacity="1" stroke-width="2.6"/>
<path d="M1145.8 960.0 L1145.8 939.7 L1241.3 939.7 L1241.3 956.5" fill="none" stroke="#7d7d7d" stroke-opacity="1" stroke-width="2.6"/>
<path d="M1417.0 816.7 L1457.5 816.7" fill="none" stroke="#7d7d7d" stroke-opacity="1" stroke-width="2.6"/>
<path d="M1631.2 810.3 L1650.5 810.3" fill="none" stroke="#7d7d7d" stroke-opacity="1" stroke-width="2.6"/>
<path d="M1489.3 848.5 L1489.3 899.2" fill="none" stroke="#7d7d7d" stroke-opacity="1" stroke-width="2.6"/>
<path d="M1489.3 863.0 L1440.0 863.0 L1440.0 888.2 L1400.5 888.2" fill="none" stroke="#7d7d7d" stroke-opacity="1" stroke-width="2.6"/>
<path d="M1408.3 924.5 L1408.3 899.2 L1512.5 899.2 L1512.5 924.5" fill="none" stroke="#7d7d7d" stroke-opacity="1" stroke-width="2.6"/>
<path d="M1608.0 848.5 L1608.0 903.5" fill="none" stroke="#7d7d7d" stroke-opacity="1" stroke-width="2.6"/>
<path d="M1585.7 923.0 L1585.7 903.5 L1690.0 903.5 L1690.0 922.0" fill="none" stroke="#7d7d7d" stroke-opacity="1" stroke-width="2.6"/>
<path d="M1003.0 249.0 L381.0 372.0" fill="none" stroke="#8a8a8a" stroke-opacity="1" stroke-width="5.2" stroke-dasharray="12 7"/>
<path d="M1029.0 248.0 L568.0 372.0" fill="none" stroke="#8a8a8a" stroke-opacity="1" stroke-width="5.2" stroke-dasharray="12 7"/>
<path d="M1230.0 251.0 L1640.0 352.0" fill="none" stroke="#8a8a8a" stroke-opacity="1" stroke-width="5.2" stroke-dasharray="12 7"/>
<path d="M1132.0 264.7 L1132.0 295.0" fill="none" stroke="#8a8a8a" stroke-opacity="1" stroke-width="5.2" stroke-dasharray="12 7"/>
<path d="M1197.0 249.7 L1129.0 294.6" fill="none" stroke="#8a8a8a" stroke-opacity="1" stroke-width="5.2" stroke-dasharray="12 7"/>
<path d="M1199.5 249.0 L1199.5 283.0" fill="none" stroke="#8a8a8a" stroke-opacity="1" stroke-width="5.2" stroke-dasharray="12 7"/>
<path d="M1133.7 264.7 L1199.5 283.3" fill="none" stroke="#8a8a8a" stroke-opacity="1" stroke-width="5.2" stroke-dasharray="12 7"/>
<path d="M1118.8 335.7 L1077.0 390.0" fill="none" stroke="#8a8a8a" stroke-opacity="1" stroke-width="5.2" stroke-dasharray="12 7"/>
<path d="M1131.5 336.4 L1237.0 390.0" fill="none" stroke="#8a8a8a" stroke-opacity="1" stroke-width="5.2" stroke-dasharray="12 7"/>
<path d="M1199.5 326.0 L1094.8 392.5" fill="none" stroke="#8a8a8a" stroke-opacity="1" stroke-width="5.2" stroke-dasharray="12 7"/>
<path d="M1208.4 335.7 L1236.0 388.0" fill="none" stroke="#8a8a8a" stroke-opacity="1" stroke-width="5.2" stroke-dasharray="12 7"/>
<path d="M1148.6 309.5 L1162.0 311.0" fill="none" stroke="#333" stroke-opacity="0.6" stroke-width="3.8"/>
<use href="#router" x="344" y="372" width="59" height="59"/>
<use href="#router" x="511.5" y="372" width="59" height="59"/>
<use href="#router" x="214" y="497" width="60" height="59"/>
<use href="#router" x="339" y="497" width="59" height="59"/>
<use href="#router" x="508" y="497" width="59" height="59"/>
<use href="#router" x="633" y="497" width="59" height="59"/>
<use href="#wifibadge" x="384.5" y="412.3" width="37.2" height="37.2"/>
<use href="#wifibadge" x="550.9" y="412.3" width="37.2" height="37.2"/>
<use href="#ap" x="214" y="610" width="60" height="59"/>
<use href="#ap" x="508" y="610" width="59" height="59"/>
<use href="#ap" x="721.5" y="693.3" width="59.5" height="60"/>
<use href="#switch" x="634" y="607" width="58.5" height="58"/>
<use href="#laptopL" x="87.5" y="609.5" width="64" height="64"/>
<use href="#laptopS" x="335.9" y="605.4" width="64" height="64"/>
<use href="#laptopL" x="736.9" y="609.2" width="64" height="64"/>
<use href="#laptopS" x="548.8" y="694" width="64" height="64"/>
<use href="#waves" x="142.5" y="586.3" width="33" height="33"/>
<g transform="translate(749 619.5) scale(-1.12 1.12)"><use href="#waves" x="0" y="-33" width="33" height="33"/></g>
<rect x="278" y="358" width="81" height="29.5" rx="5.5" fill="#fff" stroke="#262626" stroke-width="1.6"/>
<text x="285.0" y="379.95" font-family="Liberation Sans, sans-serif" font-size="20" font-weight="700" fill="#0f62d0" text-anchor="start" textLength="28.0" lengthAdjust="spacingAndGlyphs" stroke="#0f62d0" stroke-width="0.45">BN</text>
<line x1="318.5" y1="363.9" x2="318.5" y2="383.1" stroke="#222" stroke-width="1.3"/>
<text x="324.0" y="379.95" font-family="Liberation Sans, sans-serif" font-size="20" font-weight="700" fill="#0f62d0" text-anchor="start" textLength="28.0" lengthAdjust="spacingAndGlyphs" stroke="#0f62d0" stroke-width="0.45">CP</text>
<rect x="445.3" y="358" width="81" height="29.5" rx="5.5" fill="#fff" stroke="#262626" stroke-width="1.6"/>
<text x="452.3" y="379.95" font-family="Liberation Sans, sans-serif" font-size="20" font-weight="700" fill="#0f62d0" text-anchor="start" textLength="28.0" lengthAdjust="spacingAndGlyphs" stroke="#0f62d0" stroke-width="0.45">BN</text>
<line x1="485.8" y1="363.9" x2="485.8" y2="383.1" stroke="#222" stroke-width="1.3"/>
<text x="491.3" y="379.95" font-family="Liberation Sans, sans-serif" font-size="20" font-weight="700" fill="#0f62d0" text-anchor="start" textLength="28.0" lengthAdjust="spacingAndGlyphs" stroke="#0f62d0" stroke-width="0.45">CP</text>
<rect x="188.5" y="483" width="41" height="28.5" rx="5.5" fill="#fff" stroke="#262626" stroke-width="1.6"/>
<text x="209.0" y="504.45" font-family="Liberation Sans, sans-serif" font-size="20" font-weight="700" fill="#0f62d0" text-anchor="middle" stroke="#0f62d0" stroke-width="0.45">EN</text>
<rect x="314.5" y="483" width="41" height="28.5" rx="5.5" fill="#fff" stroke="#262626" stroke-width="1.6"/>
<text x="335.0" y="504.45" font-family="Liberation Sans, sans-serif" font-size="20" font-weight="700" fill="#0f62d0" text-anchor="middle" stroke="#0f62d0" stroke-width="0.45">EN</text>
<rect x="483" y="483" width="41" height="28.5" rx="5.5" fill="#fff" stroke="#262626" stroke-width="1.6"/>
<text x="503.5" y="504.45" font-family="Liberation Sans, sans-serif" font-size="20" font-weight="700" fill="#0f62d0" text-anchor="middle" stroke="#0f62d0" stroke-width="0.45">EN</text>
<rect x="607.5" y="483" width="41" height="28.5" rx="5.5" fill="#fff" stroke="#262626" stroke-width="1.6"/>
<text x="628.0" y="504.45" font-family="Liberation Sans, sans-serif" font-size="20" font-weight="700" fill="#0f62d0" text-anchor="middle" stroke="#0f62d0" stroke-width="0.45">EN</text>
<rect x="188.5" y="595.5" width="41" height="29.5" rx="5.5" fill="#fff" stroke="#262626" stroke-width="1.6"/>
<text x="209.0" y="617.45" font-family="Liberation Sans, sans-serif" font-size="20" font-weight="700" fill="#0f62d0" text-anchor="middle" stroke="#0f62d0" stroke-width="0.45">AP</text>
<rect x="483" y="595.5" width="40.5" height="29.5" rx="5.5" fill="#fff" stroke="#262626" stroke-width="1.6"/>
<text x="503.25" y="617.45" font-family="Liberation Sans, sans-serif" font-size="20" font-weight="700" fill="#0f62d0" text-anchor="middle" stroke="#0f62d0" stroke-width="0.45">AP</text>
<rect x="606.3" y="592" width="41.7" height="29.4" rx="5.5" fill="#fff" stroke="#262626" stroke-width="1.6"/>
<text x="627.15" y="613.9000000000001" font-family="Liberation Sans, sans-serif" font-size="20" font-weight="700" fill="#0f62d0" text-anchor="middle" stroke="#0f62d0" stroke-width="0.45">EX</text>
<rect x="696" y="679" width="40.4" height="30" rx="5.5" fill="#fff" stroke="#262626" stroke-width="1.6"/>
<text x="716.2" y="701.2" font-family="Liberation Sans, sans-serif" font-size="20" font-weight="700" fill="#0f62d0" text-anchor="middle" stroke="#0f62d0" stroke-width="0.45">AP</text>
<text x="159.5" y="406.4" font-family="Liberation Sans, sans-serif" font-size="23" font-weight="400" fill="#2d4e7e" text-anchor="start" textLength="91" lengthAdjust="spacingAndGlyphs" >IT Fabric</text>
<use href="#router" x="1036.6" y="390.4" width="59.5" height="59"/>
<use href="#router" x="1207.6" y="387.6" width="59" height="59"/>
<use href="#routerd" x="1036.6" y="517.2" width="60.4" height="60.5"/>
<use href="#routerd" x="1207.6" y="517.2" width="59.8" height="60.5"/>
<use href="#router" x="1036.6" y="641.6" width="59.5" height="60.5"/>
<use href="#router" x="1204.9" y="640" width="59.1" height="59.3"/>
<use href="#router" x="1332" y="644.4" width="59.5" height="59.4"/>
<rect x="971" y="377.3" width="80.5" height="28.5" rx="5.5" fill="#fff" stroke="#262626" stroke-width="1.6"/>
<text x="977.8" y="398.75" font-family="Liberation Sans, sans-serif" font-size="20" font-weight="700" fill="#0f62d0" text-anchor="start" textLength="28.0" lengthAdjust="spacingAndGlyphs" stroke="#0f62d0" stroke-width="0.45">BN</text>
<line x1="1011.2" y1="383.0" x2="1011.2" y2="401.5" stroke="#222" stroke-width="1.3"/>
<text x="1016.8" y="398.75" font-family="Liberation Sans, sans-serif" font-size="20" font-weight="700" fill="#0f62d0" text-anchor="start" textLength="28.0" lengthAdjust="spacingAndGlyphs" stroke="#0f62d0" stroke-width="0.45">CP</text>
<rect x="1142" y="374.5" width="80.5" height="28.7" rx="5.5" fill="#fff" stroke="#262626" stroke-width="1.6"/>
<text x="1148.8" y="396.05" font-family="Liberation Sans, sans-serif" font-size="20" font-weight="700" fill="#0f62d0" text-anchor="start" textLength="28.0" lengthAdjust="spacingAndGlyphs" stroke="#0f62d0" stroke-width="0.45">BN</text>
<line x1="1182.2" y1="380.2" x2="1182.2" y2="398.9" stroke="#222" stroke-width="1.3"/>
<text x="1187.8" y="396.05" font-family="Liberation Sans, sans-serif" font-size="20" font-weight="700" fill="#0f62d0" text-anchor="start" textLength="28.0" lengthAdjust="spacingAndGlyphs" stroke="#0f62d0" stroke-width="0.45">CP</text>
<rect x="1011.7" y="627.8" width="40.5" height="29.4" rx="5.5" fill="#fff" stroke="#262626" stroke-width="1.6"/>
<text x="1031.95" y="649.7" font-family="Liberation Sans, sans-serif" font-size="20" font-weight="700" fill="#0f62d0" text-anchor="middle" stroke="#0f62d0" stroke-width="0.45">EN</text>
<rect x="1179" y="626" width="40.7" height="29.4" rx="5.5" fill="#fff" stroke="#262626" stroke-width="1.6"/>
<text x="1199.35" y="647.9000000000001" font-family="Liberation Sans, sans-serif" font-size="20" font-weight="700" fill="#0f62d0" text-anchor="middle" stroke="#0f62d0" stroke-width="0.45">EN</text>
<rect x="1307" y="631.3" width="40.6" height="28.7" rx="5.5" fill="#fff" stroke="#262626" stroke-width="1.6"/>
<text x="1327.3" y="652.85" font-family="Liberation Sans, sans-serif" font-size="20" font-weight="700" fill="#0f62d0" text-anchor="middle" stroke="#0f62d0" stroke-width="0.45">EN</text>
<text x="858.6" y="479.2" font-family="Liberation Sans, sans-serif" font-size="23" font-weight="400" fill="#2d4e7e" text-anchor="start" textLength="122.7" lengthAdjust="spacingAndGlyphs" >OT Fabric 1</text>
<use href="#router" x="1636.7" y="356.6" width="59.4" height="59.8"/>
<rect x="1535.2" y="342.7" width="116.8" height="29.5" rx="5.5" fill="#fff" stroke="#262626" stroke-width="1.6"/>
<text x="1540.6" y="364.65" font-family="Liberation Sans, sans-serif" font-size="20" font-weight="700" fill="#0f62d0" text-anchor="start" textLength="28.0" lengthAdjust="spacingAndGlyphs" stroke="#0f62d0" stroke-width="0.45">BN</text>
<line x1="1574.1" y1="348.6" x2="1574.1" y2="367.8" stroke="#222" stroke-width="1.3"/>
<text x="1579.6" y="364.65" font-family="Liberation Sans, sans-serif" font-size="20" font-weight="700" fill="#0f62d0" text-anchor="start" textLength="28.0" lengthAdjust="spacingAndGlyphs" stroke="#0f62d0" stroke-width="0.45">CP</text>
<line x1="1613.1" y1="348.6" x2="1613.1" y2="367.8" stroke="#222" stroke-width="1.3"/>
<text x="1618.6" y="364.65" font-family="Liberation Sans, sans-serif" font-size="20" font-weight="700" fill="#0f62d0" text-anchor="start" textLength="28.0" lengthAdjust="spacingAndGlyphs" stroke="#0f62d0" stroke-width="0.45">EN</text>
<use href="#switch" x="1769" y="459.5" width="58.2" height="59.2"/>
<use href="#switch" x="1883.5" y="459.5" width="58.1" height="59.7"/>
<rect x="1742.7" y="446.9" width="40.3" height="29" rx="5.5" fill="#fff" stroke="#262626" stroke-width="1.6"/>
<text x="1762.8500000000001" y="468.59999999999997" font-family="Liberation Sans, sans-serif" font-size="20" font-weight="700" fill="#0f62d0" text-anchor="middle" stroke="#0f62d0" stroke-width="0.45">EX</text>
<rect x="1857.6" y="446.9" width="40" height="29" rx="5.5" fill="#fff" stroke="#262626" stroke-width="1.6"/>
<text x="1877.6" y="468.59999999999997" font-family="Liberation Sans, sans-serif" font-size="20" font-weight="700" fill="#0f62d0" text-anchor="middle" stroke="#0f62d0" stroke-width="0.45">EX</text>
<use href="#sensor" x="1791.3" y="448" width="59.8" height="24.2"/>
<use href="#sensor" x="1906.3" y="445.7" width="61.5" height="24.8"/>
<use href="#hmi" x="1667.6" y="493.3" width="57.7" height="33.7"/>
<use href="#plc" x="1959.3" y="487.8" width="58.2" height="28.6"/>
<use href="#sis" x="1650.7" y="558" width="57.7" height="32.5"/>
<text x="1696.3" y="544" font-family="Liberation Sans, sans-serif" font-size="18.5" font-weight="400" fill="#6e6e6e" text-anchor="middle" textLength="32" lengthAdjust="spacingAndGlyphs" >HMI</text>
<text x="1988.6" y="532.8" font-family="Liberation Sans, sans-serif" font-size="18.5" font-weight="400" fill="#6e6e6e" text-anchor="middle" textLength="34.4" lengthAdjust="spacingAndGlyphs" >PLC</text>
<text x="1680.2" y="607.4" font-family="Liberation Sans, sans-serif" font-size="18.5" font-weight="400" fill="#6e6e6e" text-anchor="middle" textLength="27.8" lengthAdjust="spacingAndGlyphs" >SIS</text>
<text x="1802.7" y="561.5" font-family="Liberation Sans, sans-serif" font-size="20.5" font-weight="400" fill="#2c5186" text-anchor="start" textLength="47.4" lengthAdjust="spacingAndGlyphs" >Cisco</text>
<text x="1802.7" y="580.2" font-family="Liberation Sans, sans-serif" font-size="20.5" font-weight="400" fill="#2c5186" text-anchor="start" textLength="75.6" lengthAdjust="spacingAndGlyphs" >IE Switch</text>
<text x="1925.2" y="557.2" font-family="Liberation Sans, sans-serif" font-size="20.5" font-weight="400" fill="#2c5186" text-anchor="start" textLength="47.4" lengthAdjust="spacingAndGlyphs" >Cisco</text>
<text x="1925.2" y="577.4" font-family="Liberation Sans, sans-serif" font-size="20.5" font-weight="400" fill="#2c5186" text-anchor="start" textLength="75.6" lengthAdjust="spacingAndGlyphs" >IE Switch</text>
<use href="#thermo" x="1683" y="618.5" width="59" height="59"/>
<use href="#gauge" x="1786.5" y="617.3" width="59" height="59"/>
<use href="#robot" x="1860.7" y="616.8" width="59" height="59"/>
<use href="#tank" x="1963.7" y="616" width="59" height="59"/>
<text x="2017.6" y="722.4" font-family="Liberation Sans, sans-serif" font-size="20" font-weight="400" fill="#8a8a8a" text-anchor="end" textLength="152.4" lengthAdjust="spacingAndGlyphs" >Cell/Area Zone-3</text>
<text x="1498.4" y="467" font-family="Liberation Sans, sans-serif" font-size="23" font-weight="400" fill="#2d4e7e" text-anchor="start" textLength="123.6" lengthAdjust="spacingAndGlyphs" >OT Fabric 2</text>
<use href="#ieswitch" x="1085.6" y="799.3" width="58.7" height="59.4"/>
<use href="#sensor" x="1088.2" y="781.9" width="63.8" height="22.2"/>
<text x="1154.4" y="816.3" font-family="Liberation Sans, sans-serif" font-size="20.5" font-weight="400" fill="#2c5186" text-anchor="start" textLength="47.4" lengthAdjust="spacingAndGlyphs" >Cisco</text>
<text x="1154.4" y="836.0" font-family="Liberation Sans, sans-serif" font-size="20.5" font-weight="400" fill="#2c5186" text-anchor="start" textLength="75.6" lengthAdjust="spacingAndGlyphs" >IE Switch</text>
<use href="#hmi" x="988" y="814.7" width="57.9" height="33.8"/>
<text x="1017" y="863" font-family="Liberation Sans, sans-serif" font-size="18.5" font-weight="400" fill="#6e6e6e" text-anchor="middle" textLength="32" lengthAdjust="spacingAndGlyphs" >HMI</text>
<use href="#ieswitch" x="1012" y="871.7" width="58" height="58.5"/>
<text x="1079.2" y="913.5" font-family="Liberation Sans, sans-serif" font-size="20.5" font-weight="400" fill="#2c5186" text-anchor="start" textLength="47.4" lengthAdjust="spacingAndGlyphs" >Cisco</text>
<text x="1079.2" y="932.6" font-family="Liberation Sans, sans-serif" font-size="20.5" font-weight="400" fill="#2c5186" text-anchor="start" textLength="75.6" lengthAdjust="spacingAndGlyphs" >IE Switch</text>
<use href="#plc" x="938.7" y="883.4" width="57.2" height="29.1"/>
<text x="967.8" y="929.6" font-family="Liberation Sans, sans-serif" font-size="18.5" font-weight="400" fill="#6e6e6e" text-anchor="middle" textLength="34.4" lengthAdjust="spacingAndGlyphs" >PLC</text>
<use href="#ieswitchd" x="1169.5" y="874.6" width="57.9" height="57.9"/>
<text x="1197.9" y="872.6" font-family="Liberation Sans, sans-serif" font-size="20.5" font-weight="400" fill="#2c5186" text-anchor="start" textLength="56.4" lengthAdjust="spacingAndGlyphs" >Switch</text>
<use href="#valve" x="955" y="961" width="58.5" height="58.5"/>
<use href="#robot" x="1051.5" y="960.2" width="59" height="59"/>
<use href="#motor" x="1121" y="959.3" width="58.5" height="58.5"/>
<use href="#meter" x="1212.5" y="955.6" width="58.5" height="58.5"/>
<text x="1271.7" y="1035.2" font-family="Liberation Sans, sans-serif" font-size="20" font-weight="400" fill="#8a8a8a" text-anchor="end" textLength="149" lengthAdjust="spacingAndGlyphs" >Cell/Area Zone-1</text>
<use href="#ieswitch" x="1457.5" y="789.2" width="59.3" height="59.3"/>
<use href="#sensor" x="1459.8" y="771.4" width="64.2" height="22.3"/>
<use href="#ieswitch" x="1571.8" y="789.2" width="59.4" height="59.3"/>
<use href="#sensor" x="1573.8" y="771.2" width="64.6" height="22.3"/>
<use href="#hmi" x="1359" y="799.3" width="58" height="33.3"/>
<text x="1388" y="848.5" font-family="Liberation Sans, sans-serif" font-size="18.5" font-weight="400" fill="#6e6e6e" text-anchor="middle" textLength="32" lengthAdjust="spacingAndGlyphs" >HMI</text>
<use href="#plc" x="1650.5" y="794.4" width="58.8" height="27.2"/>
<text x="1680.4" y="838.4" font-family="Liberation Sans, sans-serif" font-size="18.5" font-weight="400" fill="#6e6e6e" text-anchor="middle" textLength="34.4" lengthAdjust="spacingAndGlyphs" >PLC</text>
<use href="#sis" x="1342.6" y="863.9" width="57.9" height="31.8"/>
<text x="1373" y="913.1" font-family="Liberation Sans, sans-serif" font-size="18.5" font-weight="400" fill="#6e6e6e" text-anchor="middle" textLength="27.8" lengthAdjust="spacingAndGlyphs" >SIS</text>
<text x="1495.1" y="867.3" font-family="Liberation Sans, sans-serif" font-size="20.5" font-weight="400" fill="#2c5186" text-anchor="start" textLength="47.4" lengthAdjust="spacingAndGlyphs" >Cisco</text>
<text x="1495.1" y="887.2" font-family="Liberation Sans, sans-serif" font-size="20.5" font-weight="400" fill="#2c5186" text-anchor="start" textLength="75.6" lengthAdjust="spacingAndGlyphs" >IE Switch</text>
<text x="1617.5" y="863.5" font-family="Liberation Sans, sans-serif" font-size="20.5" font-weight="400" fill="#2c5186" text-anchor="start" textLength="47.4" lengthAdjust="spacingAndGlyphs" >Cisco</text>
<text x="1617.5" y="882.8" font-family="Liberation Sans, sans-serif" font-size="20.5" font-weight="400" fill="#2c5186" text-anchor="start" textLength="75.6" lengthAdjust="spacingAndGlyphs" >IE Switch</text>
<use href="#thermo" x="1374.5" y="924" width="59" height="59"/>
<use href="#gauge" x="1477.8" y="924" width="59" height="59"/>
<use href="#robot" x="1552.5" y="922.5" width="59" height="59"/>
<use href="#tank" x="1655.5" y="921.5" width="59" height="59"/>
<text x="1709.3" y="1028" font-family="Liberation Sans, sans-serif" font-size="20" font-weight="400" fill="#8a8a8a" text-anchor="end" textLength="152" lengthAdjust="spacingAndGlyphs" >Cell/Area Zone-2</text>
<path d="M1290 190 C1281 190 1276 185 1276 176 L1276 166 C1276 157 1281 151.7 1291 151.7 L1307 151.7 L1307 142 C1307 131 1313 125 1324 125 L1402 125 L1402 116 C1402 105 1408 99.4 1419 99.4 L1485 99.4 C1496 99.4 1502 105 1502 116 L1502 127.5 L1507 127.5 C1516 127.5 1521.4 133 1521.4 142 L1521.4 151 L1524 151 C1533 151 1537.5 157 1537.5 166 L1537.5 176 C1537.5 185 1532 190 1523 190 Z" fill="#13b8e8"/>
<use href="#amp" x="1319.4" y="108.6" width="60" height="60"/>
<use href="#talos" x="1385.2" y="110.3" width="60" height="60"/>
<use href="#xdr" x="1447.9" y="110.3" width="60" height="60"/>
<text x="1348.4" y="182.5" font-family="Liberation Sans, sans-serif" font-size="14" font-weight="400" fill="#1f4575" text-anchor="middle" textLength="71" lengthAdjust="spacingAndGlyphs" >AMP Cloud</text>
<text x="1414.8" y="184.5" font-family="Liberation Sans, sans-serif" font-size="14" font-weight="400" fill="#1f4575" text-anchor="middle" >Talos</text>
<text x="1477.9" y="183.9" font-family="Liberation Sans, sans-serif" font-size="14" font-weight="400" fill="#1f4575" text-anchor="middle" >XDR</text>
<use href="#ise" x="1031.2" y="124" width="58.6" height="58.6"/>
<text x="1060.5" y="197" font-family="Liberation Sans, sans-serif" font-size="14" font-weight="400" fill="#3d5f8f" text-anchor="middle" >ISE</text>
<use href="#catc" x="972.3" y="188.6" width="58.8" height="58.8"/>
<text x="940.5" y="207.4" font-family="Liberation Sans, sans-serif" font-size="14" font-weight="400" fill="#3d5f8f" text-anchor="middle" >Cisco</text>
<text x="940.8" y="223.1" font-family="Liberation Sans, sans-serif" font-size="14" font-weight="400" fill="#3d5f8f" text-anchor="middle" >Catalyst</text>
<text x="940.5" y="238.8" font-family="Liberation Sans, sans-serif" font-size="14" font-weight="400" fill="#3d5f8f" text-anchor="middle" >Center</text>
<use href="#cvc" x="1028.3" y="232" width="59.4" height="59.4"/>
<text x="1057.5" y="305.8" font-family="Liberation Sans, sans-serif" font-size="14" font-weight="400" fill="#3d5f8f" text-anchor="middle" >Cyber</text>
<text x="1057.5" y="321" font-family="Liberation Sans, sans-serif" font-size="14" font-weight="400" fill="#3d5f8f" text-anchor="middle" >Vision</text>
<text x="1057.5" y="336.2" font-family="Liberation Sans, sans-serif" font-size="14" font-weight="400" fill="#3d5f8f" text-anchor="middle" >Center</text>
<use href="#wc" x="1120.4" y="122.4" width="62" height="62"/>
<rect x="1088.5" y="109.8" width="49" height="28.7" rx="5.5" fill="#fff" stroke="#262626" stroke-width="1.6"/>
<text x="1113.0" y="131.70999999999998" font-family="Liberation Sans, sans-serif" font-size="21" font-weight="700" fill="#0f62d0" text-anchor="middle" stroke="#0f62d0" stroke-width="0.45">WC</text>
<use href="#fw" x="1218.2" y="137.2" width="57.4" height="58.1"/>
<use href="#dhcp" x="1235" y="201.5" width="62" height="62"/>
<text x="1306" y="237.4" font-family="Liberation Sans, sans-serif" font-size="18.8" font-weight="400" fill="#2c5a8e" text-anchor="start" textLength="136.6" lengthAdjust="spacingAndGlyphs" >DHCP, DNS, AD</text>
<text x="1306" y="256.1" font-family="Liberation Sans, sans-serif" font-size="18.8" font-weight="400" fill="#2c5a8e" text-anchor="start" textLength="84.3" lengthAdjust="spacingAndGlyphs" >(Services)</text>
<use href="#ngfw" x="1093" y="291.5" width="56" height="46"/>
<use href="#ngfw" x="1161.3" y="280.5" width="56" height="46"/>
<text x="1228" y="305.5" font-family="Liberation Sans, sans-serif" font-size="10.5" font-weight="400" fill="#3d5f8f" text-anchor="start" textLength="30.5" lengthAdjust="spacingAndGlyphs" >NGFW</text>
<use href="#mes" x="895" y="637" width="84" height="66"/>
<text x="937" y="718.4" font-family="Liberation Sans, sans-serif" font-size="18.5" font-weight="400" fill="#6a6a6a" text-anchor="middle" textLength="38" lengthAdjust="spacingAndGlyphs" >MES</text>
</svg>
</body></html>
